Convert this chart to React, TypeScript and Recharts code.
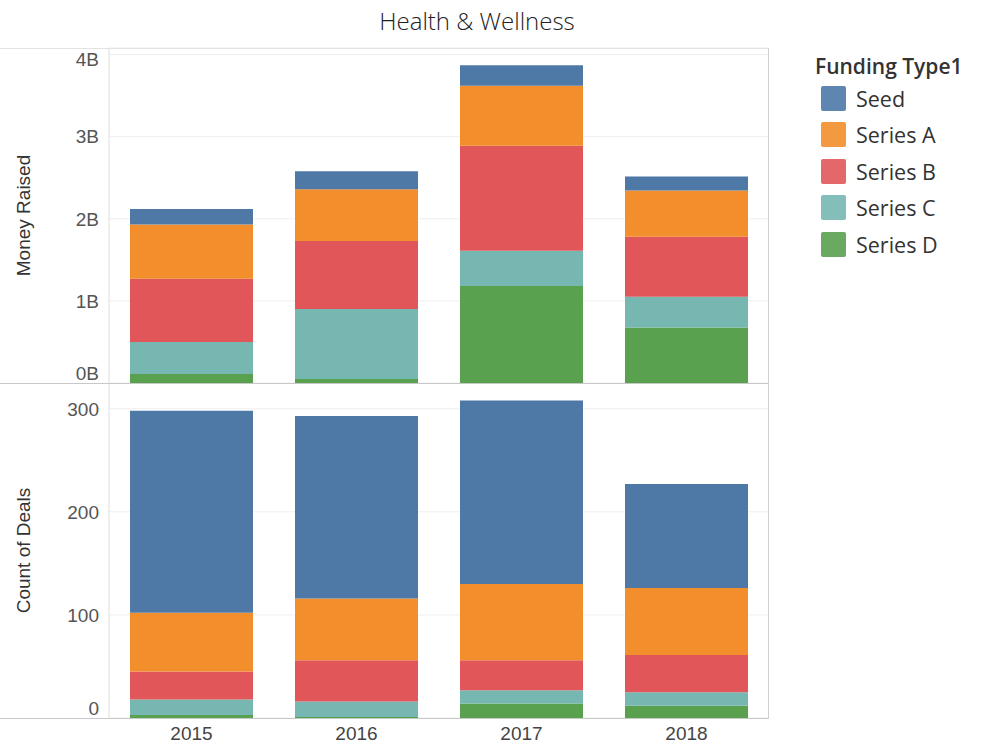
import React from 'react';
import { BarChart, Bar, XAxis, YAxis, CartesianGrid, Label } from 'recharts';

const years = ['2015', '2016', '2017', '2018'];

// Money raised, in billions
const moneySeed = [0.19, 0.22, 0.25, 0.17];
const moneySeriesA = [0.66, 0.63, 0.73, 0.565];
const moneySeriesB = [0.77, 0.83, 1.28, 0.73];
const moneySeriesC = [0.39, 0.85, 0.43, 0.375];
const moneySeriesD = [0.11, 0.05, 1.18, 0.675];

// Count of deals
const dealsSeed = [196, 177, 178, 101];
const dealsSeriesA = [57, 60, 74, 65];
const dealsSeriesB = [27, 40, 29, 36];
const dealsSeriesC = [15, 15, 13, 13];
const dealsSeriesD = [3, 1, 14, 12];

const moneyTicks = [0, 1, 2, 3, 4];
const dealsTicks = [0, 100, 200, 300];

const seriesNames = ['Seed', 'Series A', 'Series B', 'Series C', 'Series D'];
const seriesColors: Record<string, string> = {
  Seed: '#4e79a7',
  'Series A': '#f28e2b',
  'Series B': '#e15759',
  'Series C': '#76b7b2',
  'Series D': '#59a14f',
};

const moneyData = years.map((year, i) => ({
  year,
  Seed: moneySeed[i],
  'Series A': moneySeriesA[i],
  'Series B': moneySeriesB[i],
  'Series C': moneySeriesC[i],
  'Series D': moneySeriesD[i],
}));

const dealsData = years.map((year, i) => ({
  year,
  Seed: dealsSeed[i],
  'Series A': dealsSeriesA[i],
  'Series B': dealsSeriesB[i],
  'Series C': dealsSeriesC[i],
  'Series D': dealsSeriesD[i],
}));

// bottom of the stack first
const stackOrder = ['Series D', 'Series C', 'Series B', 'Series A', 'Seed'];

const TICK_FONT = '"Liberation Sans", Arial, sans-serif';
const TEXT_FONT = '"Open Sans", Lato, sans-serif';

function EdgeTick({
  x,
  y,
  payload,
  first,
  last,
  format,
}: {
  x?: number;
  y?: number;
  payload?: { value: number };
  first: number;
  last: number;
  format: (v: number) => string;
}) {
  const v = payload?.value ?? 0;
  // keep edge labels inside the pane, like the source does
  const shift = v === first ? -10 : v === last ? 5 : 0;
  return (
    <text
      x={x}
      y={(y ?? 0) + shift}
      dy="0.355em"
      textAnchor="end"
      fill="#555"
      fontSize={19}
      fontFamily={TICK_FONT}
    >
      {format(v)}
    </text>
  );
}

function Line({ left, top, width, height, color }: { left: number; top: number; width: number; height: number; color: string }) {
  return (
    <div style={{ position: 'absolute', left, top, width, height, background: color }} />
  );
}

export default function App() {
  return (
    <div
      style={{
        position: 'absolute',
        left: 0,
        top: 0,
        width: 1000,
        height: 748,
        background: '#fff',
        overflow: 'hidden',
      }}
    >
      <div
        style={{
          position: 'absolute',
          left: 0,
          top: 5,
          width: 954,
          textAlign: 'center',
          fontFamily: TEXT_FONT,
          fontSize: 24,
          fontWeight: 300,
          lineHeight: '32px',
          color: '#222',
        }}
      >
        Health &amp; Wellness
      </div>

      <div style={{ position: 'absolute', left: 0, top: 0 }}>
        <BarChart
          width={1000}
          height={400}
          data={moneyData}
          margin={{ top: 48, right: 231, bottom: 17, left: 0 }}
        >
          <CartesianGrid vertical={false} stroke="#efefef" />
          <XAxis dataKey="year" hide />
          <YAxis
            width={109}
            domain={[0, 4.08]}
            ticks={moneyTicks}
            interval={0}
            tickLine={false}
            tickMargin={4}
            axisLine={{ stroke: '#dedede' }}
            tick={
              <EdgeTick first={0} last={4} format={(v) => `${v}B`} />
            }
          >
            <Label
              value="Money Raised"
              angle={-90}
              position="insideLeft"
              offset={23}
              style={{ textAnchor: 'middle', fontSize: 19, fontFamily: TICK_FONT, fill: '#333' }}
            />
          </YAxis>
          {stackOrder.map((name) => (
            <Bar
              key={name}
              dataKey={name}
              stackId="money"
              fill={seriesColors[name]}
              barSize={123}
              isAnimationActive={false}
            />
          ))}
        </BarChart>
      </div>

      <div style={{ position: 'absolute', left: 0, top: 383 }}>
        <BarChart
          width={1000}
          height={365}
          data={dealsData}
          margin={{ top: 0, right: 231, bottom: 0, left: 0 }}
        >
          <CartesianGrid vertical={false} stroke="#efefef" />
          <XAxis
            dataKey="year"
            height={30}
            tickLine={false}
            tickSize={6}
            tickMargin={3}
            axisLine={false}
            tick={{ fill: '#444', fontSize: 19, fontFamily: TICK_FONT }}
          />
          <YAxis
            width={109}
            domain={[0, 325]}
            ticks={dealsTicks}
            interval={0}
            tickLine={false}
            tickMargin={4}
            axisLine={{ stroke: '#dedede' }}
            tick={<EdgeTick first={0} last={-1} format={(v) => String(v)} />}
          >
            <Label
              value="Count of Deals"
              angle={-90}
              position="insideLeft"
              offset={23}
              style={{ textAnchor: 'middle', fontSize: 19, fontFamily: TICK_FONT, fill: '#333' }}
            />
          </YAxis>
          {stackOrder.map((name) => (
            <Bar
              key={name}
              dataKey={name}
              stackId="deals"
              fill={seriesColors[name]}
              barSize={123}
              isAnimationActive={false}
            />
          ))}
        </BarChart>
      </div>

      {/* pane borders */}
      <Line left={0} top={48} width={769} height={1} color="#e3e3e3" />
      <Line left={0} top={383} width={769} height={1} color="#c8c8c8" />
      <Line left={0} top={718} width={769} height={1} color="#c8c8c8" />
      <Line left={768} top={48} width={1} height={671} color="#d0d0d0" />

      {/* legend */}
      <div
        style={{
          position: 'absolute',
          left: 815,
          top: 52,
          fontFamily: TEXT_FONT,
          color: '#333',
        }}
      >
        <div style={{ fontSize: 21, fontWeight: 600, lineHeight: '28px' }}>
          Funding Type1
        </div>
        {seriesNames.map((name) => (
          <div
            key={name}
            style={{ display: 'flex', alignItems: 'center', height: 36.5, marginLeft: 6 }}
          >
            <span
              style={{
                display: 'inline-block',
                width: 25,
                height: 25,
                borderRadius: 2,
                background: seriesColors[name],
                opacity: 0.9,
                marginRight: 10,
              }}
            />
            <span style={{ fontSize: 21.5 }}>{name}</span>
          </div>
        ))}
      </div>
    </div>
  );
}
